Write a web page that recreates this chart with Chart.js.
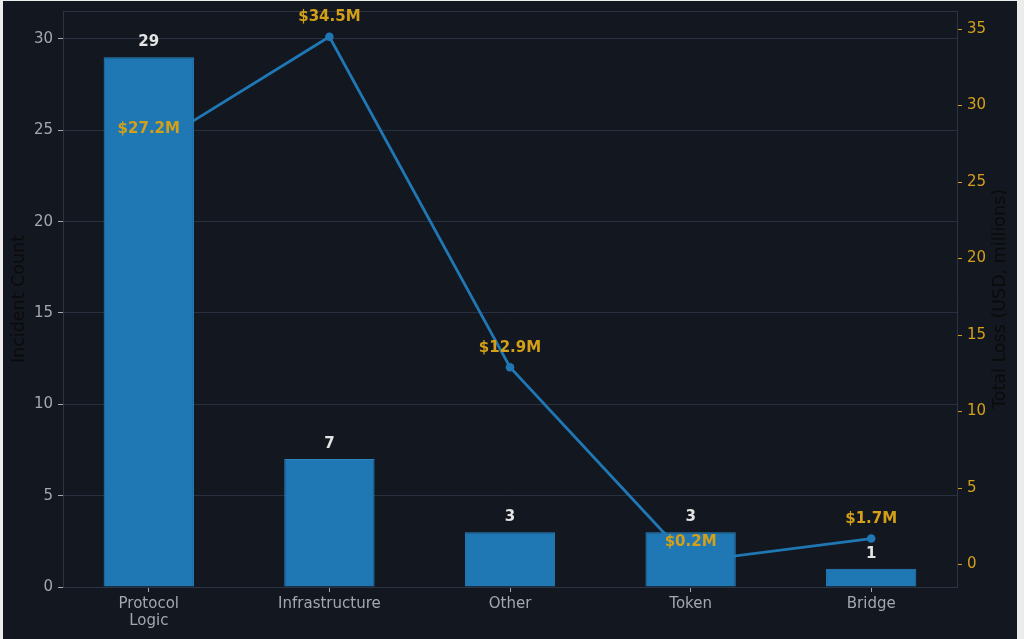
<!DOCTYPE html>
<html><head><meta charset="utf-8">
<script src="https://cdn.jsdelivr.net/npm/chart.js@4.4.1/dist/chart.umd.min.js"></script>
<style>
html,body{margin:0;padding:0;background:#ececec;width:1024px;height:639px;overflow:hidden}
#wrap{position:absolute;left:3px;top:1px;width:1014px;height:638px}
</style></head><body>
<div id="wrap"><canvas id="c"></canvas></div>
<script>
const categories = ["Protocol Logic", "Infrastructure", "Other", "Token", "Bridge"];
const tickLabels = [["Protocol", "Logic"], "Infrastructure", "Other", "Token", "Bridge"];
const incidentCounts = [29, 7, 3, 3, 1];
const totalLossMillions = [27.2, 34.5, 12.9, 0.2, 1.7];
const countTicks = [0, 5, 10, 15, 20, 25, 30];
const lossTicks = [0, 5, 10, 15, 20, 25, 30, 35];

const FONT = '"DejaVu Sans", sans-serif';
Chart.defaults.font.family = FONT;
const BG = '#131720';
const GRID = '#283040';
const FRAME = '#2c3444';
const TICKTXT = '#a3a8b0';
const GOLD = '#d4a017';
const BLUE = '#1f77b4';

const bgPlugin = {
  id: 'bg',
  beforeDraw(chart) {
    const ctx = chart.ctx;
    ctx.save();
    ctx.fillStyle = BG;
    ctx.fillRect(0, 0, chart.width, chart.height);
    ctx.restore();
  }
};

const labelPlugin = {
  id: 'valueLabels',
  afterDatasetsDraw(chart) {
    const ctx = chart.ctx;
    const barMeta = chart.getDatasetMeta(0);
    const lineMeta = chart.getDatasetMeta(1);
    ctx.save();
    ctx.textAlign = 'center';
    ctx.textBaseline = 'middle';
    ctx.font = 'bold 15px ' + FONT;
    ctx.fillStyle = '#e4e4e4';
    barMeta.data.forEach((b, i) => ctx.fillText(String(incidentCounts[i]), b.x, b.y - 15));
    ctx.fillStyle = GOLD;
    lineMeta.data.forEach((p, i) => ctx.fillText('$' + totalLossMillions[i].toFixed(1) + 'M', p.x, p.y - 19.5));
    ctx.font = '17.5px ' + FONT;
    ctx.fillStyle = '#0b0b0b';
    const ca = chart.chartArea;
    ctx.translate(997, (ca.top + ca.bottom) / 2);
    ctx.rotate(-Math.PI / 2);
    ctx.fillText('Total Loss (USD, millions)', 0, 0);
    ctx.restore();
  }
};

const noPadV = (s, w) => { s.width = w; s.paddingTop = 0; s.paddingBottom = 0; };
const noPadH = (s, h) => { s.height = h; s.paddingLeft = 0; s.paddingRight = 0; };

new Chart(document.getElementById('c'), {
  type: 'bar',
  data: {
    datasets: [
      {
        type: 'bar', label: 'Incident Count',
        data: incidentCounts.map((v, i) => ({ x: i, y: v })),
        backgroundColor: BLUE, borderColor: '#2a84c2', borderWidth: 1,
        barPercentage: 0.5, categoryPercentage: 1,
        xAxisID: 'x', yAxisID: 'y', order: 1
      },
      {
        type: 'line', label: 'Total Loss (USD, millions)',
        data: totalLossMillions.map((v, i) => ({ x: i, y: v })),
        borderColor: BLUE, backgroundColor: BLUE, borderWidth: 2.8,
        pointRadius: 4.3, pointBorderWidth: 0, tension: 0,
        xAxisID: 'x', yAxisID: 'y1', order: 2
      }
    ]
  },
  options: {
    responsive: true, maintainAspectRatio: false, animation: false,
    layout: { padding: 0 },
    plugins: { legend: { display: false }, tooltip: { enabled: false } },
    scales: {
      x: {
        type: 'linear', position: 'bottom', min: -0.475, max: 4.475, offset: false,
        afterBuildTicks: s => { s.ticks = categories.map((c, i) => ({ value: i })); },
        ticks: {
          callback: v => tickLabels[Math.round(v)], color: TICKTXT,
          font: { size: 15, lineHeight: 1.15 }, padding: 3, autoSkip: false, maxRotation: 0
        },
        grid: { drawOnChartArea: false, offset: false, tickLength: 5, tickColor: TICKTXT, color: GRID },
        border: { color: FRAME },
        afterFit: s => noPadH(s, 52)
      },
      xTop: {
        type: 'linear', position: 'top', min: 0, max: 1,
        ticks: { display: false },
        grid: { drawOnChartArea: false, drawTicks: false },
        border: { color: FRAME },
        afterFit: s => noPadH(s, 10)
      },
      y: {
        type: 'linear', position: 'left', min: 0, max: 31.53,
        afterBuildTicks: s => { s.ticks = countTicks.map(v => ({ value: v })); },
        ticks: { color: TICKTXT, font: { size: 15 }, padding: 5 },
        grid: { color: GRID, tickColor: TICKTXT, tickLength: 5 },
        border: { color: FRAME },
        title: { display: true, text: 'Incident Count', color: '#0b0b0b', font: { size: 17.5 }, padding: { top: 6, bottom: 0 } },
        afterFit: s => noPadV(s, 60)
      },
      y1: {
        type: 'linear', position: 'right', min: -1.465, max: 36.18,
        afterBuildTicks: s => { s.ticks = lossTicks.map(v => ({ value: v })); },
        ticks: { color: GOLD, font: { size: 15 }, padding: 5 },
        grid: { drawOnChartArea: false, tickColor: GOLD, tickLength: 5 },
        border: { color: FRAME },
        afterFit: s => noPadV(s, 60)
      }
    }
  },
  plugins: [bgPlugin, labelPlugin]
});
</script>
</body></html>
